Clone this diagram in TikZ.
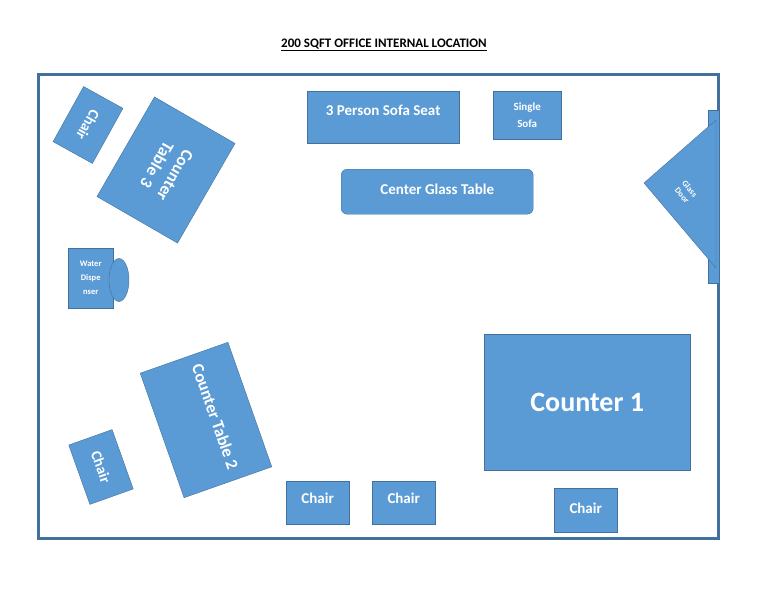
\documentclass[tikz,border=0pt]{standalone}
\usepackage{fontspec}
\setmainfont{Carlito}
\usetikzlibrary{shapes.geometric}
\begin{document}
\begin{tikzpicture}[x=1pt,y=-1pt,
                    every node/.style={text=white,font=\bfseries},
                    furniture/.style={rectangle,draw=strokeblue,fill=fillblue,inner sep=1pt,align=center}]
                    \definecolor{fillblue}{HTML}{5B9BD5}
                    \definecolor{strokeblue}{HTML}{41719C}
                    \useasboundingbox (0,0) rectangle (768,594);
                    % title
                    \node (Title) [text=black,font=\bfseries\fontsize{13}{15}\selectfont] at (384,45) {\underline{200 SQFT OFFICE INTERNAL LOCATION}};
                    % room
                    \draw[strokeblue,line width=3pt] (38,74) rectangle (718,538);
                    % glass door
                    \draw[strokeblue,fill=fillblue] (708,110) rectangle (719,283);
                    \draw[strokeblue,fill=fillblue] (716,120) -- (644,183) -- (716,268) -- cycle;
                    \node (Door) [font=\bfseries\fontsize{8.5}{10}\selectfont,rotate=-50,align=center] at (686,192) {Glass\\Door};
                    % top row
                    \node (Sofa) [furniture,minimum width=152,minimum height=52,anchor=north west,font=\bfseries\fontsize{15}{18}\selectfont] at (307,91) {\raisebox{13pt}{3 Person Sofa Seat}};
                    \node (SingleSofa) [furniture,minimum width=68,minimum height=48,anchor=north west,font=\bfseries\fontsize{11}{17}\selectfont] at (493,91) {Single\\Sofa};
                    \node (GlassTable) [furniture,rounded corners=6pt,minimum width=192,minimum height=45,anchor=north west,font=\bfseries\fontsize{15}{18}\selectfont] at (341,169) {\raisebox{4pt}{Center Glass Table}};
                    % left side
                    \node (Chair1) [furniture,rotate=-119,minimum width=63,minimum height=45,font=\bfseries\fontsize{15}{18}\selectfont] at (88,125) {Chair};
                    \node (Table3) [furniture,rotate=-120,minimum width=115,minimum height=93,font=\bfseries\fontsize{17}{21}\selectfont] at (166,170) {Counter\\Table 3};
                    \node (Water) [furniture,minimum width=45,minimum height=60,anchor=north west,font=\bfseries\fontsize{8.5}{14}\selectfont] at (68,248) {Water\\Dispe\\nser};
                    \node (Tap) [ellipse,draw=strokeblue,fill=fillblue,minimum width=20,minimum height=43,inner sep=0pt] at (119,280) {};
                    \node (Table2) [furniture,rotate=-70.6,minimum width=132,minimum height=93,font=\bfseries\fontsize{17}{21}\selectfont] at (206,420) {\raisebox{20pt}{Counter Table 2}};
                    \node (Chair2) [furniture,rotate=-70.4,minimum width=63,minimum height=46,font=\bfseries\fontsize{15}{18}\selectfont] at (101,467) {Chair};
                    % bottom row
                    \node (Chair3) [furniture,minimum width=63,minimum height=43,anchor=north west,font=\bfseries\fontsize{15}{18}\selectfont] at (286,481) {\raisebox{8pt}{Chair}};
                    \node (Chair4) [furniture,minimum width=63,minimum height=43,anchor=north west,font=\bfseries\fontsize{15}{18}\selectfont] at (372,481) {\raisebox{8pt}{Chair}};
                    \node (Chair5) [furniture,minimum width=63,minimum height=44,anchor=north west,font=\bfseries\fontsize{15}{18}\selectfont] at (554,488) {\raisebox{4pt}{Chair}};
                    \node (Counter1) [furniture,minimum width=206,minimum height=136,anchor=north west,font=\bfseries\fontsize{28}{32}\selectfont] at (484,334) {Counter 1};
\end{tikzpicture}
\end{document}
